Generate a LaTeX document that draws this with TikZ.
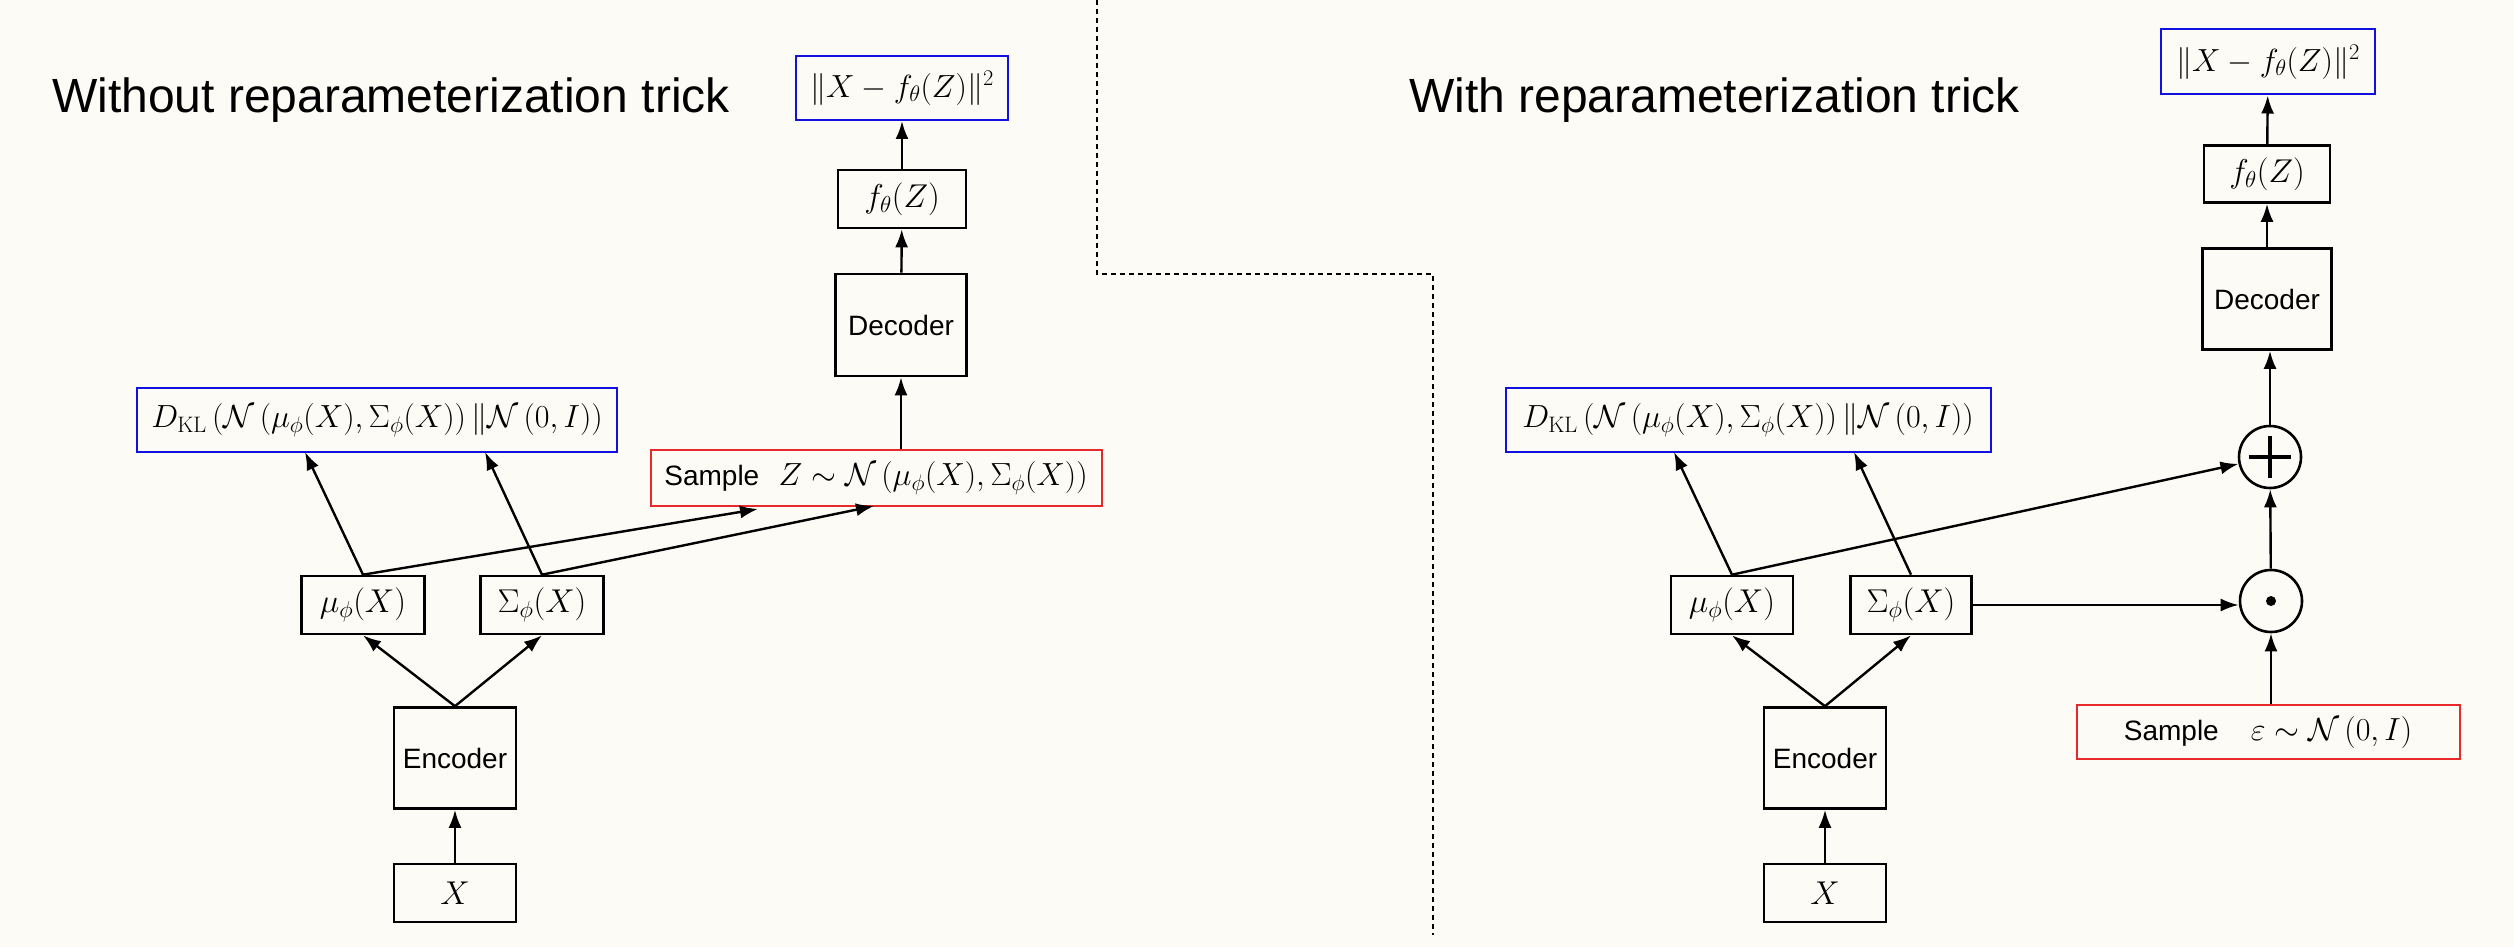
\documentclass[tikz,border=0pt]{standalone}
\usepackage{fix-cm}
\usepackage{fontspec}
\setsansfont{Liberation Sans}
\usepackage{amsmath}
\usetikzlibrary{arrows.meta,calc}
\definecolor{bg}{HTML}{FDFBF5}
\definecolor{myred}{HTML}{E8292B}
\definecolor{myblue}{HTML}{1010E0}
\begin{document}
\begin{tikzpicture}[x=1pt,y=-1pt,
  box/.style={draw,line width=2.6pt,inner sep=0pt,font=\fontsize{33}{38}\selectfont},
  sbox/.style={box,font=\sffamily\fontsize{28}{32}\selectfont},
  bbox/.style={draw=myblue,line width=2pt,inner sep=0pt,font=\fontsize{32}{36}\selectfont},
  rbox/.style={draw=myred,line width=2pt,inner sep=0pt,font=\fontsize{32}{36}\selectfont},
  op/.style={draw,circle,line width=2.6pt,minimum size=62pt,inner sep=0pt},
  arr/.style={line width=2.4pt,-{Latex[length=18pt,width=13pt]}},
  title/.style={font=\sffamily\fontsize{48}{52}\selectfont,anchor=west,inner sep=0pt}]
\fill[bg] (0,0) rectangle (2514,947);
\useasboundingbox (0,0) rectangle (2514,947);
\draw[dashed,line width=1.2pt,dash pattern=on 5pt off 4pt] (1097,0) -- (1097,274) -- (1433,274) -- (1433,935);
% ---------- left ----------
\node[title] (t1) at (52,100) {Without reparameterization trick};
\node[bbox,minimum width=212pt,minimum height=64pt] (L1) at (902,88) {$\|X-f_\theta(Z)\|^2$};
\node[box,minimum width=128pt,minimum height=58pt] (f1) at (902,199) {$f_\theta(Z)$};
\node[sbox,minimum width=131pt,minimum height=102pt] (d1) at (901,325) {Decoder};
\node[bbox,minimum width=480pt,minimum height=64pt] (k1) at (377,420) {$D_{\mathrm{KL}}\,(\mathcal{N}\,(\mu_\phi(X),\Sigma_\phi(X))\,\|\mathcal{N}\,(0,I))$};
\node[rbox,minimum width=451pt,minimum height=56pt] (s1) at (876,478) {{\sffamily\fontsize{28}{32}\selectfont Sample}\ \ $Z\sim\mathcal{N}\,(\mu_\phi(X),\Sigma_\phi(X))$};
\node[box,minimum width=123pt,minimum height=58pt] (m1) at (363,605) {$\mu_\phi(X)$};
\node[box,minimum width=123pt,minimum height=58pt] (g1) at (542,605) {$\Sigma_\phi(X)$};
\node[sbox,minimum width=122pt,minimum height=101pt] (e1) at (455,758) {Encoder};
\node[box,minimum width=122pt,minimum height=58pt] (x1) at (455,893) {$X$};
\coordinate (k1a) at (305,452);
\coordinate (k1b) at (485,452);
\coordinate (s1a) at (758,509);
\coordinate (s1b) at (874,506);
\draw[arr] (x1) -- (e1);
\draw[arr] (e1.north) -- (m1.south);
\draw[arr] (e1.north) -- (g1.south);
\draw[arr] (m1.north) -- (k1a);
\draw[arr] (g1.north) -- (k1b);
\draw[arr] (m1.north) -- (s1a);
\draw[arr] (g1.north) -- (s1b);
\draw[arr] (s1.north -| d1.south) -- (d1.south);
\draw[arr] (d1) -- (f1);
\draw[arr] (f1) -- (L1);
% ---------- right ----------
\node[title] (t2) at (1409,100) {With reparameterization trick};
\node[bbox,minimum width=214pt,minimum height=65pt] (L2) at (2268,62) {$\|X-f_\theta(Z)\|^2$};
\node[box,minimum width=126pt,minimum height=57pt] (f2) at (2267,174) {$f_\theta(Z)$};
\node[sbox,minimum width=129pt,minimum height=101pt] (d2) at (2267,299) {Decoder};
\node[op] (p2) at (2270,457) {};
\draw[line width=3.4pt] ($(p2)+(-21,0)$) -- ($(p2)+(21,0)$) ($(p2)+(0,-21)$) -- ($(p2)+(0,21)$);
\node[op] (o2) at (2271,601) {};
\fill (o2.center) circle (5pt);
\node[rbox,minimum width=383pt,minimum height=54pt] (s2) at (2268,732) {{\sffamily\fontsize{28}{32}\selectfont Sample}\quad $\varepsilon\sim\mathcal{N}\,(0,I)$\hspace{40pt}};
\node[bbox,minimum width=485pt,minimum height=64pt] (k2) at (1748,420) {$D_{\mathrm{KL}}\,(\mathcal{N}\,(\mu_\phi(X),\Sigma_\phi(X))\,\|\mathcal{N}\,(0,I))$};
\node[box,minimum width=122pt,minimum height=58pt] (m2) at (1732,605) {$\mu_\phi(X)$};
\node[box,minimum width=121pt,minimum height=58pt] (g2) at (1911,605) {$\Sigma_\phi(X)$};
\node[sbox,minimum width=122pt,minimum height=101pt] (e2) at (1825,758) {Encoder};
\node[box,minimum width=122pt,minimum height=58pt] (x2) at (1825,893) {$X$};
\coordinate (k2a) at (1674,452);
\coordinate (k2b) at (1854,452);
\draw[arr] (x2) -- (e2);
\draw[arr] (e2.north) -- (m2.south);
\draw[arr] (e2.north) -- (g2.south);
\draw[arr] (m2.north) -- (k2a);
\draw[arr] (g2.north) -- (k2b);
\draw[arr] (m2.north) -- (p2);
\draw[arr] (g2) -- (g2 -| o2.west);
\draw[arr] (s2.north -| o2.south) -- (o2.south);
\draw[arr] (o2) -- (p2);
\draw[arr] (p2.north) -- (p2.north |- d2.south);
\draw[arr] (d2) -- (f2);
\draw[arr] (f2) -- (L2);
\end{tikzpicture}
\end{document}
